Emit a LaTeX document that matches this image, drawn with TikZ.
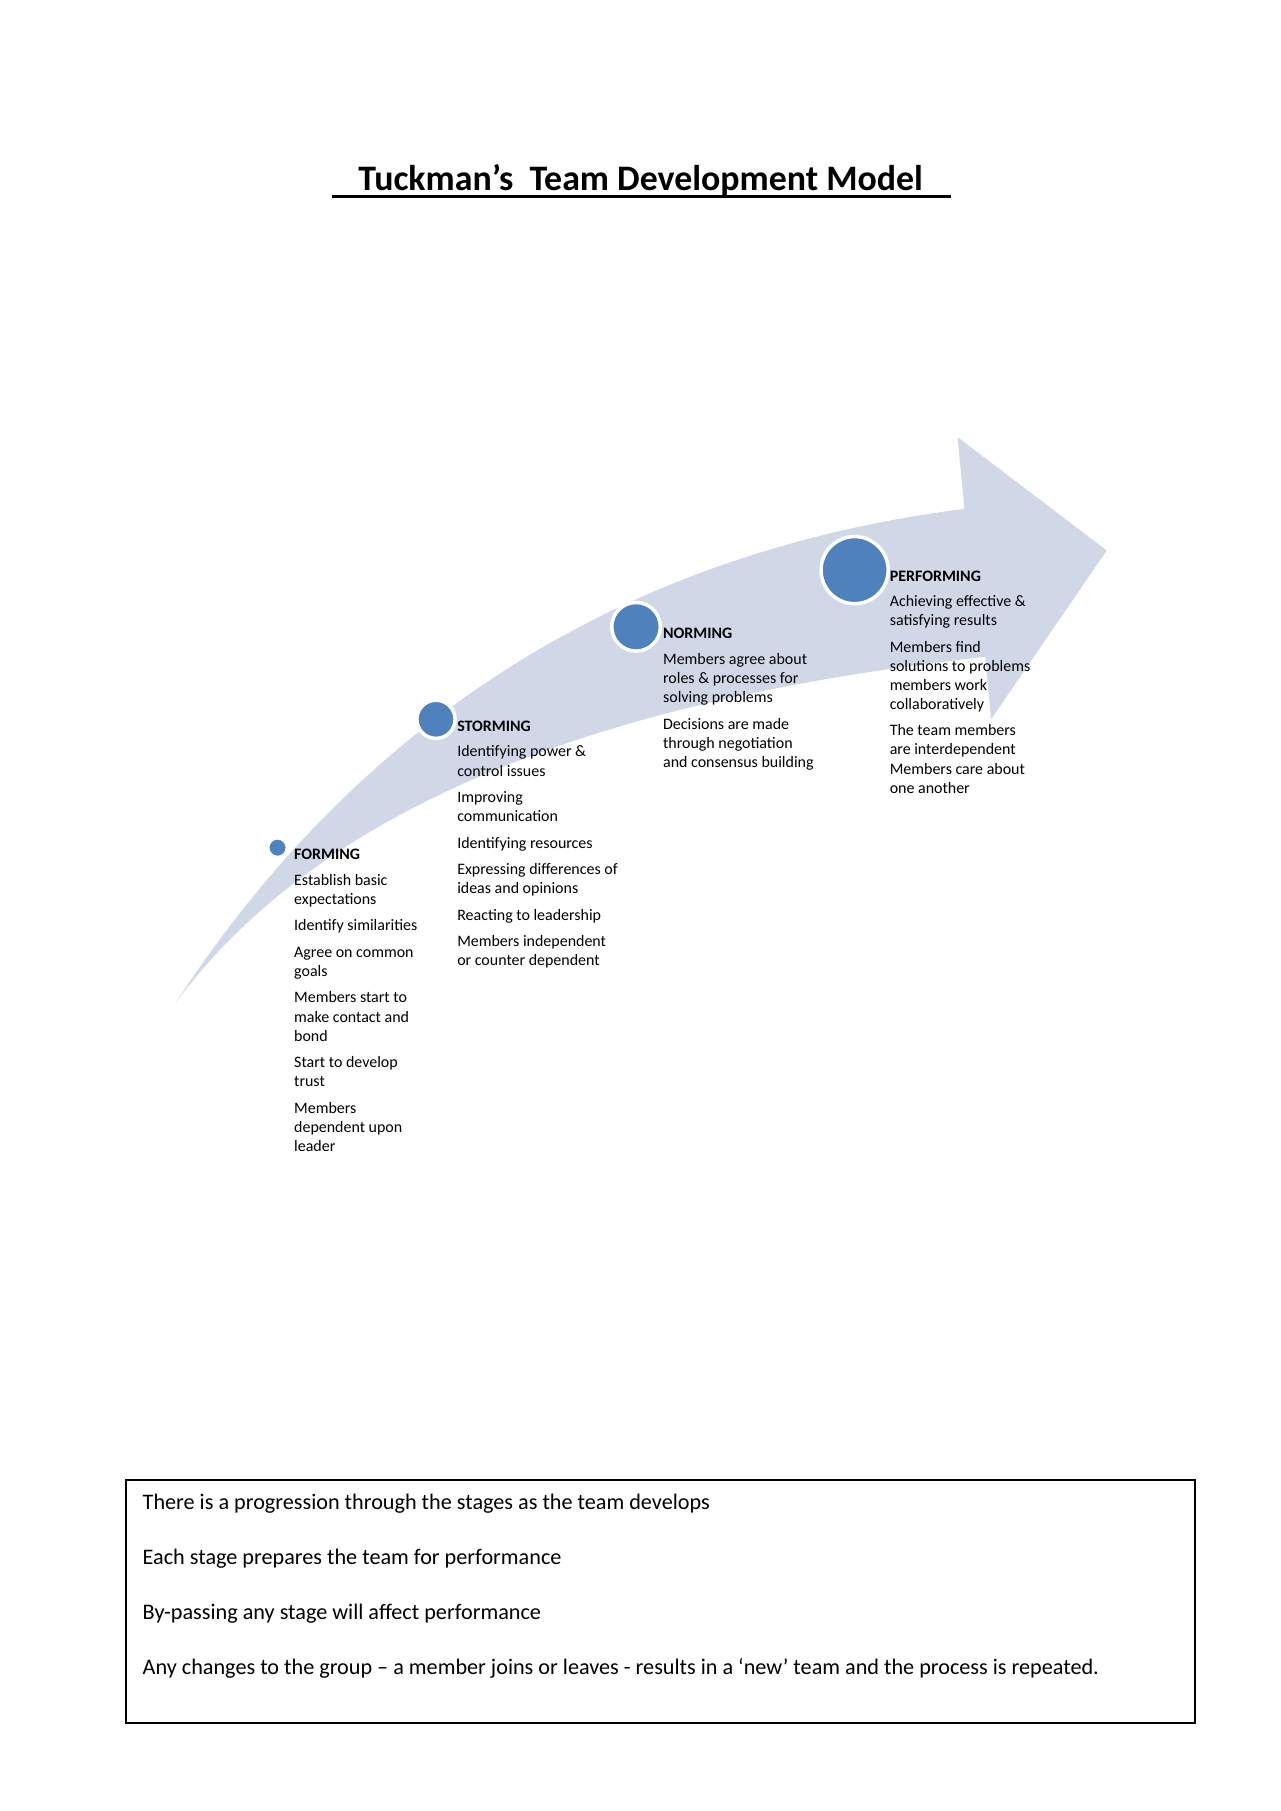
\documentclass[tikz,border=0pt]{standalone}
\usepackage{fontspec}
\setmainfont{Carlito}
\begin{document}
\begin{tikzpicture}[x=0.5pt,y=-0.5pt,
  dot/.style={circle,fill=dotblue,draw=white,line width=1.5pt,inner sep=0pt},
  txt/.style={anchor=north west,align=left,inner sep=0pt,font=\fontsize{6.9}{8.25}\selectfont},
  box/.style={anchor=west,inner sep=0pt,font=\fontsize{9.6}{11}\selectfont}]
\definecolor{dotblue}{HTML}{4F81BD}
\definecolor{arrowfill}{HTML}{D0D8E8}
\useasboundingbox (0,0) rectangle (1107,1566);
% title
\node[inner sep=0pt,font=\bfseries\fontsize{15.5}{18}\selectfont] (title) at (554,156) {Tuckman’s\ \ Team Development Model};
\draw[line width=1pt] (287,170) -- (822,170);
% arrow
\fill[arrowfill] (152,867) .. controls (300,640) and (520,480) .. (834,440)
  -- (828,378) -- (957,476) -- (857,622) -- (852,568)
  .. controls (560,600) and (290,680) .. (152,867) -- cycle;
% dots
\node[dot,minimum size=17pt*0.5] (f) at (240,733) {};
\node[dot,minimum size=33pt*0.5] (s) at (377,622) {};
\node[dot,minimum size=42pt*0.5] (n) at (550,542) {};
\node[dot,minimum size=58pt*0.5] (p) at (739,493) {};
% texts
\node[txt] (ft) at (254,734) {\textbf{FORMING}\\[2.8pt]
Establish basic\\expectations\\[3.2pt]
Identify similarities\\[3.2pt]
Agree on common\\goals\\[3.2pt]
Members start to\\make contact and\\bond\\[3.2pt]
Start to develop\\trust\\[3.2pt]
Members\\dependent upon\\leader};
\node[txt] (st) at (395,623) {\textbf{STORMING}\\[2.8pt]
Identifying power \&\\control issues\\[3.2pt]
Improving\\communication\\[3.2pt]
Identifying resources\\[3.2pt]
Expressing differences of\\ideas and opinions\\[3.2pt]
Reacting to leadership\\[3.2pt]
Members independent\\or counter dependent};
\node[txt] (nt) at (573,543) {\textbf{NORMING}\\[2.8pt]
Members agree about\\roles \& processes for\\solving problems\\[3.2pt]
Decisions are made\\through negotiation\\and consensus building};
\node[txt] (pt) at (769,493) {\textbf{PERFORMING}\\[2.8pt]
Achieving effective \&\\satisfying results\\[3.2pt]
Members find\\solutions to problems\\members work\\collaboratively\\[3.2pt]
The team members\\are interdependent\\Members care about\\one another};
% box
\draw[line width=0.8pt] (109,1280) rectangle (1033,1490);
\node[box] (b1) at (123,1300) {There is a progression through the stages as the team develops};
\node[box] (b2) at (123,1347.5) {Each stage prepares the team for performance};
\node[box] (b3) at (123,1395) {By-passing any stage will affect performance};
\node[box] (b4) at (123,1442.5) {Any changes to the group – a member joins or leaves - results in a ‘new’ team and the process is repeated.};
\end{tikzpicture}
\end{document}
